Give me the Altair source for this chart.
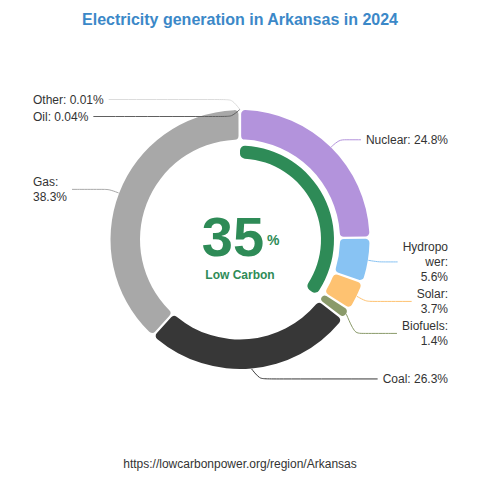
import math
import altair as alt
import pandas as pd

# ---- data ----
sources = ["Nuclear", "Hydropower", "Solar", "Biofuels", "Coal", "Gas", "Oil", "Other"]
shares = [24.8, 5.6, 3.7, 1.4, 26.3, 38.3, 0.04, 0.01]
share_labels = ["24.8%", "5.6%", "3.7%", "1.4%", "26.3%", "38.3%", "0.04%", "0.01%"]
colors = ["#b393dc", "#88c3f3", "#fec271", "#8a9a6a", "#373737", "#a8a8a8", "#606060", "#dcdcdc"]
low_carbon = 35
title_text = "Electricity generation in Arkansas in 2024"
footer_text = "https://lowcarbonpower.org/region/Arkansas"

# ---- geometry (plot coordinates) ----
W, H = 464, 464
CX, CY = 232, 231.5
R_OUT, R_IN = 129.5, 100
R_ANCHOR, R_ELBOW = 130, 140
LEFT_EDGE, RIGHT_EDGE = 25, 440
FS = 12
LH = 15

# Arial-like char widths (per 1000 em)
CW = {'a':556,'b':556,'c':500,'d':556,'e':556,'f':278,'g':556,'h':556,'i':222,'j':222,'k':500,
      'l':222,'m':833,'n':556,'o':556,'p':556,'q':556,'r':333,'s':500,'t':278,'u':556,'v':500,
      'w':722,'x':500,'y':500,'z':500,'A':667,'B':667,'C':722,'D':722,'E':667,'F':611,'G':778,
      'H':722,'I':278,'N':722,'O':778,'S':667,' ':278,'.':278,':':278,'%':889}
def tw(s):
    return sum(CW.get(c, 556) for c in s) * FS / 1000.0

def wrap(text, avail):
    if tw(text) <= avail:
        return [text]
    out = []
    for word in text.split(" "):
        while tw(word) > avail:
            k = len(word)
            while k > 1 and tw(word[:k]) > avail:
                k -= 1
            out.append(word[:k])
            word = word[k:]
        out.append(word)
    return out

df = pd.DataFrame({"source": sources, "share": shares, "idx": list(range(len(sources)))})
total = sum(shares)

labels = []
cum = 0.0
for i, (s, v, lab) in enumerate(zip(sources, shares, share_labels)):
    a = 2 * math.pi * (cum + v / 2) / total
    cum += v
    side = 1 if math.sin(a) > 0 else -1
    ax = CX + R_ANCHOR * math.sin(a)
    ay = CY - R_ANCHOR * math.cos(a)
    ex = CX + R_ELBOW * math.sin(a)
    ey = CY - R_ELBOW * math.cos(a)
    ex = max(ex, ax + 8) if side > 0 else min(ex, ax - 8)
    avail = (RIGHT_EDGE - ex - 22) if side > 0 else (ex - LEFT_EDGE - 22)
    lines = wrap(f"{s}: {lab}", avail)
    labels.append(dict(i=i, source=s, side=side, ax=ax, ay=ay, ex=ex, y=ey, lines=lines))

# de-overlap per side
for side in (1, -1):
    grp = sorted([l for l in labels if l["side"] == side], key=lambda l: l["y"])
    prev_bottom = -1e9
    for l in grp:
        h = len(l["lines"]) * LH
        top = l["y"] - h / 2
        if top < prev_bottom + 2:
            l["y"] = prev_bottom + 2 + h / 2
        prev_bottom = l["y"] + h / 2

text_rows, line_rows = [], []
for l in labels:
    n = len(l["lines"])
    width = max(tw(t) for t in l["lines"])
    for k, t in enumerate(l["lines"]):
        text_rows.append(dict(txt=t, x=RIGHT_EDGE if l["side"] > 0 else LEFT_EDGE,
                              y=l["y"] + (k - (n - 1) / 2) * LH,
                              side=l["side"]))
    end_x = RIGHT_EDGE - width - 5 if l["side"] > 0 else LEFT_EDGE + width + 5
    pts = [(l["ax"], l["ay"]), (l["ex"], l["y"]), (l["ex"] + l["side"] * 6, l["y"]), (end_x, l["y"])]
    for k, (px, py) in enumerate(pts):
        line_rows.append(dict(source=l["source"], k=k, x=px, y=py))

tdf = pd.DataFrame(text_rows)
ldf = pd.DataFrame(line_rows)

color_scale = alt.Scale(domain=sources, range=colors)
px_x = alt.Scale(domain=[0, W], range=[0, W])
px_y = alt.Scale(domain=[0, H], range=[0, H])

donut = alt.Chart(df).mark_arc(innerRadius=R_IN, outerRadius=R_OUT, padAngle=0.014,
                               cornerRadius=4).encode(
    theta=alt.Theta("share:Q", stack=True),
    order=alt.Order("idx:Q"),
    color=alt.Color("source:N", scale=color_scale, legend=None),
    x=alt.value(CX), y=alt.value(CY),
)

green = alt.Chart(pd.DataFrame({"start": [0], "end": [low_carbon]})).mark_arc(
    innerRadius=81, outerRadius=94, cornerRadius=5, color="#2e8b57").encode(
    theta=alt.Theta("start:Q", scale=alt.Scale(domain=[0, 100], range=[0, 2 * math.pi])),
    theta2="end:Q",
    x=alt.value(CX), y=alt.value(CY),
)

leaders = alt.Chart(ldf).mark_line(strokeWidth=1, interpolate="basis").encode(
    x=alt.X("x:Q", scale=px_x, axis=None),
    y=alt.Y("y:Q", scale=px_y, axis=None),
    detail="source:N",
    order="k:Q",
    color=alt.Color("source:N", scale=color_scale, legend=None),
)

right_txt = alt.Chart(tdf[tdf["side"] > 0]).mark_text(
    align="right", baseline="middle", font="Liberation Sans", fontSize=FS, color="#333333").encode(
    x=alt.X("x:Q", scale=px_x, axis=None), y=alt.Y("y:Q", scale=px_y, axis=None), text="txt:N")
left_txt = alt.Chart(tdf[tdf["side"] < 0]).mark_text(
    align="left", baseline="middle", font="Liberation Sans", fontSize=FS, color="#333333").encode(
    x=alt.X("x:Q", scale=px_x, axis=None), y=alt.Y("y:Q", scale=px_y, axis=None), text="txt:N")

big = alt.Chart(pd.DataFrame({"v": [str(low_carbon)]})).mark_text(
    font="Liberation Sans", fontSize=56, fontWeight="bold", color="#2e8b57",
    align="center", baseline="alphabetic").encode(
    text="v:N", x=alt.value(CX - 7), y=alt.value(CY + 16))
pct = alt.Chart(pd.DataFrame({"v": ["%"]})).mark_text(
    font="Liberation Sans", fontSize=14, fontWeight="bold", color="#2e8b57",
    align="left", baseline="alphabetic").encode(
    text="v:N", x=alt.value(CX + 27), y=alt.value(CY + 5))
lc = alt.Chart(pd.DataFrame({"v": ["Low Carbon"]})).mark_text(
    font="Liberation Sans", fontSize=12, fontWeight="bold", color="#2e8b57",
    align="center", baseline="middle").encode(
    text="v:N", x=alt.value(CX), y=alt.value(CY + 35))
title = alt.Chart(pd.DataFrame({"v": [title_text]})).mark_text(
    font="Liberation Sans", fontSize=16, fontWeight="bold", color="#3b88c8",
    align="center", baseline="middle").encode(
    text="v:N", x=alt.value(CX), y=alt.value(12))
footer = alt.Chart(pd.DataFrame({"v": [footer_text]})).mark_text(
    font="Liberation Sans", fontSize=12, color="#333333",
    align="center", baseline="middle").encode(
    text="v:N", x=alt.value(CX), y=alt.value(456))

chart = alt.layer(donut, green, leaders, right_txt, left_txt, big, pct, lc, title, footer).resolve_scale(
    theta="independent").properties(
    width=W, height=H, padding=0, autosize=alt.AutoSizeParams(type="none")
).configure_view(stroke=None)

chart.save("out.html", embed_options={"renderer": "svg", "actions": False})
